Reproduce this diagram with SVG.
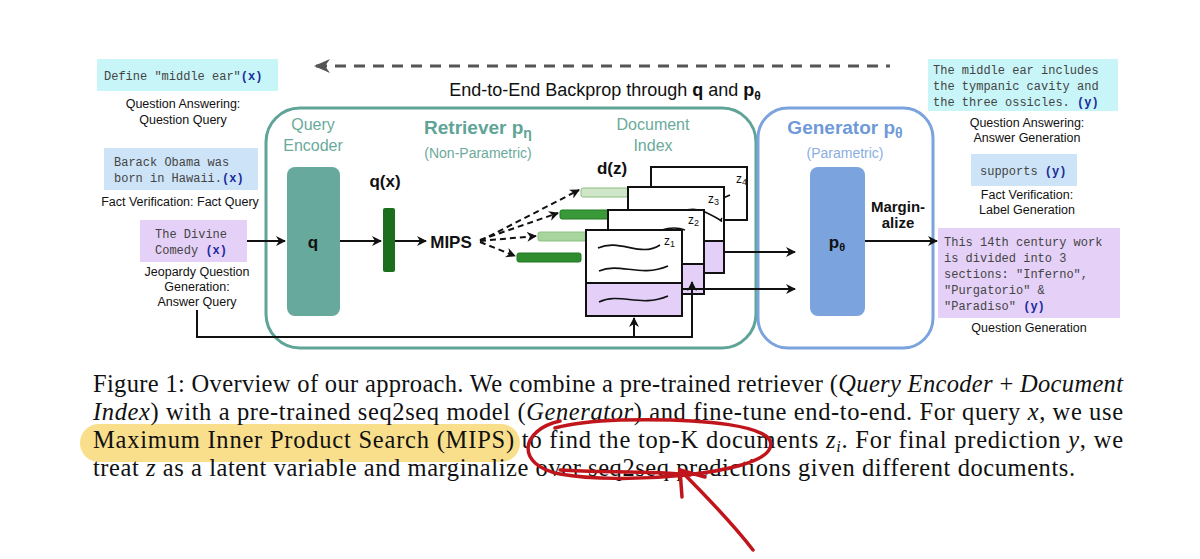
<svg xmlns="http://www.w3.org/2000/svg" width="1200" height="559" viewBox="0 0 1200 559">
<style>
.s{font-family:"Liberation Sans",Arial,sans-serif}
.m{font-family:"Liberation Mono","Courier New",monospace;font-size:12px;fill:#444}
.mx{font-family:"Liberation Mono",monospace;font-size:12px;font-weight:bold;fill:#1a2b9c}
.lb{font-family:"Liberation Sans",Arial,sans-serif;font-size:12.5px;fill:#111;text-anchor:middle}
.cap{font-family:"Liberation Serif","Times New Roman",serif;font-size:24.5px;fill:#111}
.ln{fill:none;stroke:#111;stroke-width:2}
.dl{fill:none;stroke:#111;stroke-width:2;stroke-dasharray:6,4}
.doc{fill:#fff;stroke:#111;stroke-width:2}
.pu{fill:#e3cff7;stroke:#111;stroke-width:2}
.wv{fill:none;stroke:#111;stroke-width:1.6}
</style>
<defs>
<marker id="a" markerWidth="10" markerHeight="10" refX="9" refY="5" orient="auto" markerUnits="userSpaceOnUse"><path d="M0,0 L10,5 L0,10 L3,5 z" fill="#111"/></marker>
<marker id="g" markerWidth="16" markerHeight="14" refX="2" refY="7" orient="auto" markerUnits="userSpaceOnUse"><path d="M16,0 L0,7 L16,14 L11,7 z" fill="#555"/></marker>
</defs>
<rect width="1200" height="559" fill="#fff"/>

<g id="backprop">
<line x1="316" y1="66" x2="890" y2="66" stroke="#555" stroke-width="3" stroke-dasharray="11,8" marker-start="url(#g)"/>
<text x="605" y="96" class="s" font-size="18" text-anchor="middle" fill="#111">End-to-End Backprop through <tspan font-weight="bold">q</tspan> and <tspan font-weight="bold">p</tspan><tspan font-weight="bold" font-size="12" dy="4">θ</tspan></text>
</g>

<g id="retriever">
<rect x="266" y="108" width="490" height="240" rx="34" fill="none" stroke="#5fa497" stroke-width="3"/>
<text x="313" y="130" class="s" font-size="16" fill="#6aaa9b" text-anchor="middle">Query</text>
<text x="313" y="151" class="s" font-size="16" fill="#6aaa9b" text-anchor="middle">Encoder</text>
<text x="478" y="134" class="s" font-size="19" font-weight="bold" fill="#5fa497" text-anchor="middle">Retriever p<tspan font-size="14" dy="4">η</tspan></text>
<text x="478" y="158" class="s" font-size="14" fill="#6aaa9b" text-anchor="middle">(Non-Parametric)</text>
<text x="653" y="130" class="s" font-size="16" fill="#6aaa9b" text-anchor="middle">Document</text>
<text x="653" y="151" class="s" font-size="16" fill="#6aaa9b" text-anchor="middle">Index</text>
</g>
<g id="generator">
<rect x="758" y="108" width="175" height="240" rx="30" fill="none" stroke="#7ba3dd" stroke-width="3"/>
<text x="845" y="134" class="s" font-size="19" font-weight="bold" fill="#6f9ad9" text-anchor="middle">Generator p<tspan font-size="14" dy="4">θ</tspan></text>
<text x="845" y="158" class="s" font-size="14" fill="#8aaee0" text-anchor="middle">(Parametric)</text>
</g>

<g id="q"><rect x="287" y="167" width="53" height="149" rx="8" fill="#67a99c"/><text x="313" y="248" class="s" font-size="17" font-weight="bold" text-anchor="middle" fill="#111">q</text></g>
<g id="qx"><text x="385" y="187" class="s" font-size="17" font-weight="bold" text-anchor="middle" fill="#111">q(x)</text><rect x="383" y="208" width="12" height="64" rx="2" fill="#1b6e1b"/></g>
<g id="mips"><text x="451" y="248" class="s" font-size="17" font-weight="bold" text-anchor="middle" fill="#111">MIPS</text></g>
<g id="p"><rect x="810" y="167" width="55" height="149" rx="8" fill="#7ba3dd"/><text x="837" y="248" class="s" font-size="17" font-weight="bold" text-anchor="middle" fill="#111">p<tspan font-size="11" dy="3">θ</tspan></text></g>
<g id="marg"><text x="898" y="212" class="s" font-size="15" font-weight="bold" text-anchor="middle" fill="#111">Margin-</text><text x="898" y="228" class="s" font-size="15" font-weight="bold" text-anchor="middle" fill="#111">alize</text></g>

<g id="dz">
<text x="612" y="174" class="s" font-size="17" font-weight="bold" text-anchor="middle" fill="#111">d(z)</text>
<rect x="581" y="188" width="50" height="9" rx="2" fill="#cfe6c8" stroke="#8bbf80"/>
<rect x="560" y="210" width="50" height="9" rx="2" fill="#3a9a3a" stroke="#217a21"/>
<rect x="538" y="232" width="50" height="9" rx="2" fill="#a8d49e" stroke="#8bbf80"/>
<rect x="517" y="253" width="64" height="9" rx="2" fill="#2e8b2e" stroke="#217a21"/>
</g>

<g id="docs">
<rect x="651" y="167" width="96" height="53" class="doc"/>
<path d="M660,200 C680,190 700,210 730,195" class="wv"/><text x="736" y="183" class="s" font-size="12" fill="#111">z<tspan font-size="9" dy="2">4</tspan></text>
<rect x="628" y="187" width="96" height="54" class="doc"/><rect x="628" y="241" width="96" height="32" class="pu"/>
<path d="M638,218 C660,232 680,200 705,212 S718,222 722,218" class="wv"/><text x="708" y="203" class="s" font-size="12" fill="#111">z<tspan font-size="9" dy="2">3</tspan></text>
<rect x="608" y="210" width="96" height="54" class="doc"/><rect x="608" y="264" width="96" height="30" class="pu"/>
<path d="M618,235 C640,250 660,220 685,230" class="wv"/><text x="688" y="224" class="s" font-size="12" fill="#111">z<tspan font-size="9" dy="2">2</tspan></text>
<rect x="586" y="230" width="96" height="53" class="doc"/><rect x="586" y="283" width="96" height="33" class="pu"/>
<path d="M598,248 C620,238 640,258 660,245" class="wv"/><path d="M599,271 C620,262 640,278 668,266" class="wv"/><path d="M599,302 C620,292 640,308 668,296" class="wv"/>
<text x="664" y="245" class="s" font-size="12" fill="#111">z<tspan font-size="9" dy="2">1</tspan></text>
</g>

<g id="connectors">
<line x1="247" y1="241" x2="285" y2="241" class="ln" marker-end="url(#a)"/>
<line x1="340" y1="241" x2="381" y2="241" class="ln" marker-end="url(#a)"/>
<line x1="395" y1="241" x2="426" y2="241" class="ln" marker-end="url(#a)"/>
<line x1="480" y1="241" x2="579" y2="190" class="dl" marker-end="url(#a)"/>
<line x1="480" y1="240" x2="558" y2="213" class="dl" marker-end="url(#a)"/>
<line x1="480" y1="241" x2="536" y2="236" class="dl" marker-end="url(#a)"/>
<line x1="480" y1="242" x2="515" y2="256" class="dl" marker-end="url(#a)"/>
<line x1="724" y1="252" x2="795" y2="252" class="ln" marker-end="url(#a)"/>
<line x1="682" y1="289" x2="795" y2="289" class="ln" marker-end="url(#a)"/>
<line x1="865" y1="241" x2="937" y2="241" class="ln" marker-end="url(#a)"/>
<polyline points="197,310 197,337 692,337 692,282" class="ln" marker-end="url(#a)"/>
<line x1="634" y1="337" x2="634" y2="318" class="ln" marker-end="url(#a)"/>
</g>

<g id="in1"><rect x="97" y="59" width="181" height="32" fill="#c8f5f8"/><text x="104" y="80" class="m">Define "middle ear"<tspan class="mx">(x)</tspan></text>
<text x="183" y="108" class="lb">Question Answering:</text><text x="183" y="124" class="lb">Question Query</text></g>
<g id="in2"><rect x="104" y="148" width="154" height="42" fill="#cde3f7"/><text x="114" y="166" class="m">Barack Obama was</text><text x="114" y="182" class="m">born in Hawaii.<tspan class="mx">(x)</tspan></text>
<text x="180" y="206" class="lb">Fact Verification: Fact Query</text></g>
<g id="in3"><rect x="140" y="220" width="107" height="42" fill="#e5d1f7"/><text x="155" y="238" class="m">The Divine</text><text x="155" y="254" class="m">Comedy <tspan class="mx">(x)</tspan></text>
<text x="197" y="276" class="lb">Jeopardy Question</text><text x="197" y="291" class="lb">Generation:</text><text x="197" y="306" class="lb">Answer Query</text></g>

<g id="out1"><rect x="928" y="59" width="190" height="52" fill="#c8f5f8"/>
<text x="933" y="74" class="m">The middle ear includes</text><text x="933" y="90" class="m">the tympanic cavity and</text><text x="933" y="106" class="m">the three ossicles.  <tspan class="mx">(y)</tspan></text>
<text x="1027" y="127" class="lb">Question Answering:</text><text x="1027" y="142" class="lb">Answer Generation</text></g>
<g id="out2"><rect x="971" y="154" width="106" height="32" fill="#cde3f7"/><text x="980" y="175" class="m">supports <tspan class="mx">(y)</tspan></text>
<text x="1027" y="199" class="lb">Fact Verification:</text><text x="1027" y="214" class="lb">Label Generation</text></g>
<g id="out3"><rect x="938" y="228" width="182" height="90" fill="#e5d1f7"/>
<text x="944" y="246" class="m">This 14th century work</text><text x="944" y="262" class="m">is divided into 3</text><text x="944" y="278" class="m">sections: "Inferno",</text><text x="944" y="294" class="m">"Purgatorio" &amp;</text><text x="944" y="310" class="m">"Paradiso"      <tspan class="mx">(y)</tspan></text>
<text x="1029" y="332" class="lb">Question Generation</text></g>

<rect x="80" y="424" width="440" height="38" rx="19" fill="#f8d978" opacity="0.85"/>
<g id="caption">
<text x="93" y="392" class="cap" textLength="1030" lengthAdjust="spacing">Figure 1: Overview of our approach. We combine a pre-trained retriever (<tspan font-style="italic">Query Encoder</tspan> + <tspan font-style="italic">Document</tspan></text>
<text x="93" y="420" class="cap" textLength="1030" lengthAdjust="spacing"><tspan font-style="italic">Index</tspan>) with a pre-trained seq2seq model (<tspan font-style="italic">Generator</tspan>) and fine-tune end-to-end. For query <tspan font-style="italic">x</tspan>, we use</text>
<text x="93" y="448" class="cap" textLength="1030" lengthAdjust="spacing">Maximum Inner Product Search (MIPS) to find the top-K documents <tspan font-style="italic">z</tspan><tspan font-style="italic" font-size="16" dy="4">i</tspan><tspan dy="-4">. For final prediction </tspan><tspan font-style="italic">y</tspan>, we</text>
<text x="93" y="476" class="cap" textLength="982" lengthAdjust="spacing">treat <tspan font-style="italic">z</tspan> as a latent variable and marginalize over seq2seq predictions given different documents.</text>
</g>
<g id="annotation" fill="none" stroke="#c0161b" stroke-width="3.5" stroke-linecap="round">
<path d="M560,421 C520,430 515,465 560,474 C620,485 760,475 770,448 C780,425 700,418 620,420 C590,421 570,424 555,428"/>
<path d="M560,470 C600,473 650,470 690,475"/>
<path d="M753,550 C730,520 700,490 680,470"/>
<path d="M680,470 L682,497 M680,470 L705,477"/>
</g>
</svg>
